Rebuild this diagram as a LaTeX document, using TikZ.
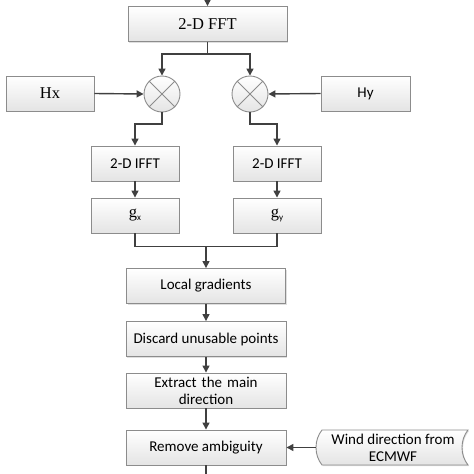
\documentclass[tikz,border=0pt]{standalone}
\usepackage{fontspec}
\setmainfont{Carlito}
\newfontfamily\serifA{Liberation Serif}
\usetikzlibrary{arrows.meta,shadows}
\definecolor{boxborder}{HTML}{8C8C8C}
\definecolor{boxbot}{HTML}{E4E4E4}
\definecolor{linec}{HTML}{404040}
\tikzset{
  blk/.style={draw=boxborder, line width=0.9pt, top color=white, bottom color=boxbot,
    minimum height=35pt, inner sep=1pt, align=center, font=\fontsize{15}{17}\selectfont,
    drop shadow={shadow xshift=1pt, shadow yshift=-1pt, fill=black!25, opacity=0.5}},
  serifbox/.style={font=\serifA\fontsize{16.5}{18}\selectfont},
  mult/.style={circle, draw=boxborder, line width=0.9pt, top color=white, bottom color=boxbot, minimum size=36pt, inner sep=0pt},
  conn/.style={draw=linec, line width=1.4pt, -{Triangle[length=7pt,width=7pt]}},
  plain/.style={draw=linec, line width=1.4pt},
}
\begin{document}
\begin{tikzpicture}[x=1pt,y=-1pt]
\useasboundingbox (0,0) rectangle (474,474);
\node[blk, serifbox, minimum width=159pt] (fft) at (207.5,24) {2-D FFT};
\coordinate (top) at (207.5,0);
\node[mult] (m1) at (162,94) {};
\node[mult] (m2) at (250,94) {};
\draw[boxborder, line width=0.8pt] (m1.north west) -- (m1.south east) (m1.north east) -- (m1.south west);
\draw[boxborder, line width=0.8pt] (m2.north west) -- (m2.south east) (m2.north east) -- (m2.south west);
\node[blk, serifbox, minimum width=88pt] (hx) at (50,93.5) {Hx};
\node[blk, minimum width=89pt] (hy) at (365.5,93.5) {Hy};
\node[blk, minimum width=88pt] (i1) at (135,163.5) {2-D IFFT};
\node[blk, minimum width=88pt] (i2) at (277,163.5) {2-D IFFT};
\node[blk, minimum width=88pt] (g1) at (135,215.5) {{\serifA\fontsize{16.5}{18}\selectfont g}\raisebox{-0.3ex}{\fontsize{9}{10}\selectfont x}};
\node[blk, minimum width=88pt] (g2) at (277,215.5) {{\serifA\fontsize{16.5}{18}\selectfont g}\raisebox{-0.3ex}{\fontsize{9}{10}\selectfont y}};
\node[blk, minimum width=159pt] (lg) at (206,286) {Local gradients};
\node[blk, minimum width=160pt] (dp) at (206,339) {Discard unusable points};
\node[blk, minimum width=160pt, text width=155pt] (ex) at (206,390.5) {Extract the main\\direction};
\node[blk, minimum width=160pt] (ra) at (206,447.5) {Remove ambiguity};
\coordinate (bot) at (206,474);
% wind direction stored-data shape
\fill[black!25, opacity=0.5] (323,431) .. controls (315,441) and (315,456) .. (323,466)
  -- (469,466) .. controls (461,456) and (461,441) .. (469,431) -- cycle;
\draw[boxborder, line width=0.9pt, top color=white, bottom color=boxbot]
  (322,430) .. controls (314,440) and (314,455) .. (322,465)
  -- (468,465) .. controls (460,455) and (460,440) .. (468,430) -- cycle;
\node[align=center, font=\fontsize{15}{17}\selectfont, inner sep=0pt] (wd) at (393,447.5) {Wind direction from\\ECMWF};
\coordinate (wdl) at (316,447.5);
% connectors
\draw[conn] (top) -- (fft.north);
\draw[conn] (fft.south) -- ++(0,12) -| (m1.north);
\draw[conn] (fft.south) -- ++(0,12) -| (m2.north);
\draw[conn] (hx.east) -- (m1.west);
\draw[conn] (hy.west) -- (m2.east);
\draw[conn] (m1.south) -- (162,124) -| (i1.north);
\draw[conn] (m2.south) -- (250,124) -| (i2.north);
\draw[conn] (i1) -- (g1);
\draw[conn] (i2) -- (g2);
\draw[plain] (g1.south) |- (206,246.5);
\draw[plain] (g2.south) |- (206,246.5);
\draw[conn] (206,246.5) -- (lg.north);
\draw[conn] (lg) -- (dp);
\draw[conn] (dp) -- (ex);
\draw[conn] (ex) -- (ra);
\draw[conn] (wdl) -- (ra.east);
\draw[plain] (ra.south) -- (bot);
\end{tikzpicture}
\end{document}
